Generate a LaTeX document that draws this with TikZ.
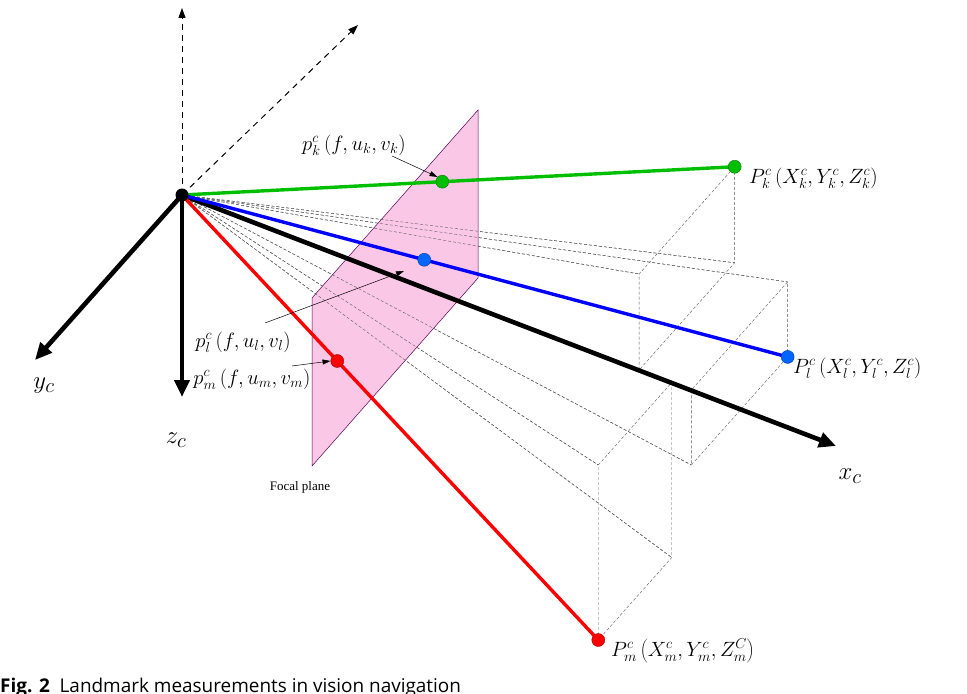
\documentclass[tikz,border=0pt]{standalone}
\usepackage{fontspec}
\setmainfont{Liberation Serif}
\newfontfamily\capfont{Open Sans}
\usetikzlibrary{arrows.meta,calc}
\begin{document}
\begin{tikzpicture}[x=1bp,y=-1bp,
  axis/.style={line width=4.6bp,-{Triangle[length=17bp,width=15bp]}},
  dashaxis/.style={line width=1bp,dashed,dash pattern=on 6bp off 5bp,-{Triangle[length=10bp,width=7bp]}},
  ray/.style={line width=3.4bp},
  fan/.style={line width=0.4bp,gray!70!black,dash pattern=on 3bp off 2bp},
  dot/.style={circle,draw=#1!60!black,fill=#1,inner sep=0pt,minimum size=13bp},
  lbl/.style={font=\fontsize{22}{26}\selectfont,inner sep=1bp},
  big/.style={font=\fontsize{30}{34}\selectfont,inner sep=1bp},
  ptr/.style={line width=0.5bp,-{Triangle[length=8bp,width=5bp]}}]
\useasboundingbox (0,0) rectangle (967,694);
\fill[white] (0,0) rectangle (967,694);
\coordinate (O) at (182,195);
\begin{scope}[shift={(182,195)},x={(6.53bp,-2.5bp)},y={(-1.47bp,-1.65bp)},z={(0bp,-1bp)}]
  \coordinate (Pk) at (70,-65,-96);
  \coordinate (Pl) at (78,-65.5,75);
  \coordinate (Pm) at (75,50,175);
  \foreach \n/\X/\Y/\Z in {k/70/-65/-96,l/78/-65.5/75,m/75/50/175}{
    \coordinate (A\n) at (\X,\Y,0);
    \coordinate (B\n) at (\X,0,0);
    \coordinate (C\n) at (\X,0,\Z);
    \draw[fan] (P\n) -- (A\n) -- (B\n) -- (C\n) -- cycle;
    \draw[fan] (O) -- (A\n) (O) -- (C\n);
  }
\end{scope}
% focal plane
\fill[magenta!22,draw=violet!70!black,line width=0.5bp] (312,298) -- (478,110) -- (478,278) -- (312,466) -- cycle;
\node[font=\fontsize{13}{15}\selectfont] (fp) at (300,487) {Focal plane};
\foreach \n in {k,l,m}{\draw[fan] (O) -- (A\n) (O) -- (C\n);}
% dashed axes
\coordinate (up) at (182,8);
\coordinate (diag) at (358,25);
\draw[dashaxis] (O) -- (up);
\draw[dashaxis] (O) -- (diag);
% solid axes
\coordinate (ye) at (35,360);
\coordinate (ze) at (182,397);
\coordinate (xe) at (836,446);
\draw[axis] (O) -- (ye);
\draw[axis] (O) -- (ze);
\draw[axis] (O) -- (xe);
\node[big] (yl) at (44,386) {$y_c$};
\node[big] (zl) at (176,440) {$z_c$};
\node[big] (xl) at (850,476) {$x_c$};
% rays
\draw[ray,green!75!black] (O) -- (Pk);
\draw[ray,blue] (O) -- (Pl);
\draw[ray,red] (O) -- (Pm);
\node[dot=green!75!black] (pk) at ($(O)!0.471!(Pk)$) {};
\node[dot=blue!60!cyan] (pl) at ($(O)!0.40!(Pl)$) {};
\node[dot=red] (pm) at ($(O)!0.373!(Pm)$) {};
\node[dot=green!75!black] (Pkd) at (Pk) {};
\node[dot=blue!60!cyan] (Pld) at (Pl) {};
\node[dot=red] (Pmd) at (Pm) {};
\node[circle,fill=black,inner sep=0pt,minimum size=13bp] (Od) at (O) {};
% labels
\node[lbl,anchor=west] (Lk) at (748,178) {$P_k^c\left(X_k^c,Y_k^c,Z_k^c\right)$};
\node[lbl,anchor=west] (Ll) at (792,368) {$P_l^c\left(X_l^c,Y_l^c,Z_l^c\right)$};
\node[lbl,anchor=west] (Lm) at (610,651) {$P_m^c\left(X_m^c,Y_m^c,Z_m^C\right)$};
\node[lbl] (lk) at (354,145) {$p_k^c\left(f,u_k,v_k\right)$};
\node[lbl] (ll) at (243,342) {$p_l^c\left(f,u_l,v_l\right)$};
\node[lbl] (lm) at (252,379) {$p_m^c\left(f,u_m,v_m\right)$};
\coordinate (tk) at (392,156);
\coordinate (tl) at (265,323);
\coordinate (tm) at (292,366);
\draw[ptr] (tk) -- (pk.north west);
\draw[ptr] (tl) -- (404,271);
\draw[ptr] (tm) -- (pm.west);
% caption
\node[anchor=west,font=\capfont\fontsize{19}{22}\selectfont,inner sep=0pt] (cap) at (0,688) {\textbf{Fig. 2}\ \ Landmark measurements in vision navigation};
\end{tikzpicture}
\end{document}
